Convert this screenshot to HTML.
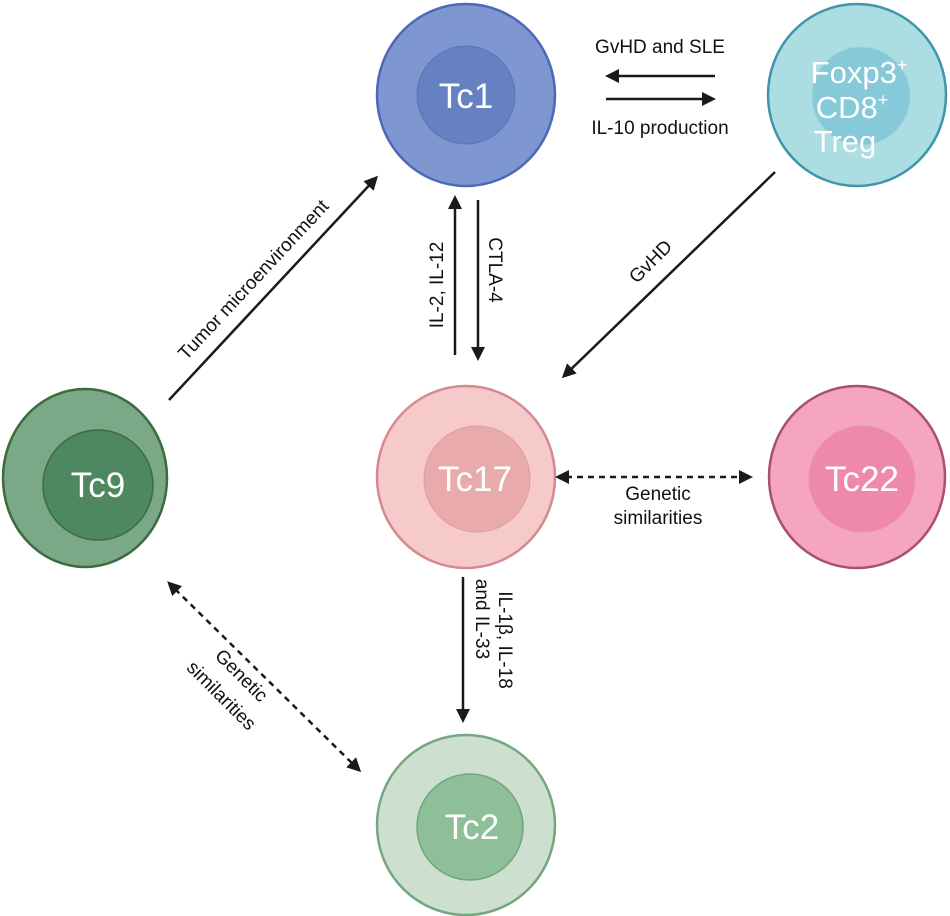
<!DOCTYPE html>
<html><head><meta charset="utf-8"><style>html,body{margin:0;padding:0;background:#fff}svg{display:block}text{font-family:"Liberation Sans",sans-serif}</style></head><body>
<svg width="950" height="916" viewBox="0 0 950 916" xmlns="http://www.w3.org/2000/svg">
<defs>
<marker id="ah" markerWidth="14" markerHeight="14" refX="11" refY="7" orient="auto" markerUnits="userSpaceOnUse" viewBox="0 0 14 14"><path d="M0,0 L14,7 L0,14 z" fill="#1a1a1a"/></marker>
<marker id="ahs" markerWidth="14" markerHeight="14" refX="3" refY="7" orient="auto-start-reverse" markerUnits="userSpaceOnUse" viewBox="0 0 14 14"><path d="M0,0 L14,7 L0,14 z" fill="#1a1a1a"/></marker>
</defs>
<g stroke-width="2.5">
<ellipse cx="466" cy="95" rx="89" ry="91" fill="#7f97d0" stroke="#4f67b8"/>
<circle cx="466" cy="95" r="49" fill="#6681c2" stroke="#5a74b8" stroke-width="1"/>
<ellipse cx="857" cy="95" rx="89" ry="91" fill="#acdde2" stroke="#3f95ac"/>
<circle cx="861" cy="96" r="49" fill="#86c9d8" stroke="#9ad2dd" stroke-width="1"/>
<ellipse cx="85" cy="478" rx="82" ry="89" fill="#7ba886" stroke="#3b6b3f"/>
<circle cx="98" cy="485" r="55" fill="#4e8861" stroke="#386c45" stroke-width="1.5"/>
<ellipse cx="466" cy="477" rx="89" ry="91" fill="#f6c9cb" stroke="#d48a8e"/>
<circle cx="477" cy="479" r="53" fill="#e9aaab" stroke="#dc9ea0" stroke-width="1"/>
<ellipse cx="857" cy="477" rx="88" ry="91" fill="#f5a5c0" stroke="#a8506e"/>
<circle cx="862" cy="479" r="53" fill="#ef88ad" stroke="#e990b1" stroke-width="1"/>
<ellipse cx="466" cy="825" rx="89" ry="90" fill="#cde0d0" stroke="#75a67f"/>
<circle cx="470" cy="827" r="53" fill="#8ebf99" stroke="#6fa67c" stroke-width="1.5"/>
</g>
<g fill="#fff" font-size="35" text-anchor="middle">
<text x="466" y="108">Tc1</text>
<text x="98" y="497">Tc9</text>
<text x="475" y="491">Tc17</text>
<text x="862" y="491">Tc22</text>
<text x="472" y="839">Tc2</text>
<text x="859" y="83" font-size="31">Foxp3<tspan font-size="18" dy="-12">+</tspan></text>
<text x="852" y="118" font-size="31">CD8<tspan font-size="18" dy="-12">+</tspan></text>
<text x="845" y="152" font-size="31">Treg</text>
</g>
<g stroke="#1a1a1a" stroke-width="2.5" fill="none">
<line x1="169" y1="400" x2="376" y2="178" marker-end="url(#ah)"/>
<line x1="455" y1="355" x2="455" y2="198" marker-end="url(#ah)"/>
<line x1="478" y1="200" x2="478" y2="358" marker-end="url(#ah)"/>
<line x1="715" y1="76" x2="608" y2="76" marker-end="url(#ah)"/>
<line x1="606" y1="99" x2="713" y2="99" marker-end="url(#ah)"/>
<line x1="775" y1="172" x2="564" y2="376" marker-end="url(#ah)"/>
<line x1="463" y1="577" x2="463" y2="720" marker-end="url(#ah)"/>
<line x1="566" y1="477" x2="750" y2="477" stroke-dasharray="6,5" marker-start="url(#ahs)" marker-end="url(#ah)"/>
<line x1="175" y1="589" x2="359" y2="770" stroke-dasharray="6,5" marker-start="url(#ahs)" marker-end="url(#ah)"/>
</g>
<g fill="#111" font-size="19" text-anchor="middle">
<text x="660" y="53">GvHD and SLE</text>
<text x="660" y="134">IL-10 production</text>
<text transform="translate(258,284) rotate(-47)">Tumor microenvironment</text>
<text transform="translate(443,285) rotate(-90)">IL-2, IL-12</text>
<text transform="translate(489,270) rotate(90)">CTLA-4</text>
<text transform="translate(655,266) rotate(-45)">GvHD</text>
<text x="658" y="500">Genetic</text>
<text x="658" y="524">similarities</text>
<text transform="translate(499,640) rotate(90)">IL-1β, IL-18</text>
<text transform="translate(476,619) rotate(90)">and IL-33</text>
<text transform="translate(237,680) rotate(45)">Genetic</text>
<text transform="translate(217,700) rotate(45)">similarities</text>
</g>
</svg>
</body></html>
